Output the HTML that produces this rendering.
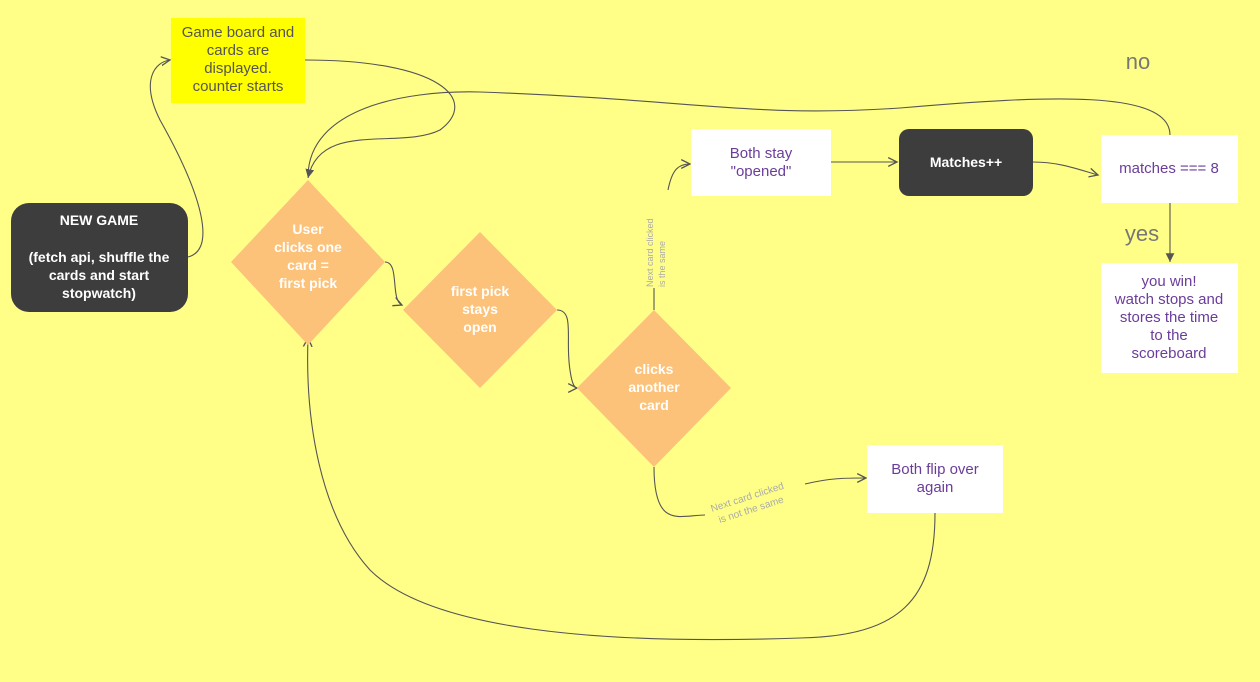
<!DOCTYPE html>
<html><head><style>
html,body{margin:0;padding:0;background:#ffff88;}
svg{display:block;font-family:"Liberation Sans",sans-serif;}
</style></head><body>
<svg width="1260" height="682" viewBox="0 0 1260 682">
<defs><marker id="a" markerWidth="10" markerHeight="10" refX="8" refY="5" orient="auto"><path d="M0,1 L8,5 L0,9" fill="none" stroke="#555" stroke-width="1.2"/></marker>
<marker id="f" markerWidth="10" markerHeight="10" refX="8" refY="5" orient="auto"><path d="M0,1 L8,5 L0,9 Z" fill="#555"/></marker></defs>
<rect width="1260" height="682" fill="#ffff88"/>
<g fill="none" stroke="#555" stroke-width="1.1">
<path d="M188,257 C215,250 205,200 160,120 C140,80 155,62 170,60" marker-end="url(#a)"/>
<path d="M305,60 C440,60 480,100 440,130 C400,150 320,120 308,178" marker-end="url(#f)"/>
<path d="M308,175 C310,110 400,90 480,92 C700,100 750,118 900,108 C1050,95 1170,90 1170,135"/>
<path d="M385,262 C400,262 390,300 402,305" marker-end="url(#a)"/>
<path d="M557,310 C575,310 565,340 570,370 C572,385 575,388 577,388" marker-end="url(#a)"/>
<path d="M654,310 L654,288"/>
<path d="M668,190 C672,170 678,164 690,164" marker-end="url(#a)"/>
<path d="M831,162 L897,162" marker-end="url(#a)"/>
<path d="M1033,162 C1060,162 1080,170 1098,175" marker-end="url(#a)"/>
<path d="M1170,203 L1170,262" marker-end="url(#f)"/>
<path d="M654,467 C654,530 680,515 705,515"/>
<path d="M805,484 C830,478 845,478 866,478" marker-end="url(#a)"/>
<path d="M935,513 C935,600 900,636 800,638 C600,645 430,630 370,570 C320,515 305,420 308,338" marker-end="url(#a)"/>
</g>
<rect x="171" y="18" width="134" height="85" fill="#ffff00"/>
<text font-size="15" fill="#555" text-anchor="middle"><tspan x="238" y="37">Game board and</tspan><tspan x="238" y="55">cards are</tspan><tspan x="238" y="73">displayed.</tspan><tspan x="238" y="91">counter starts</tspan></text>
<rect x="11" y="203" width="177" height="109" rx="18" fill="#3d3d3d"/>
<text font-size="14" font-weight="bold" fill="#fff" text-anchor="middle"><tspan x="99" y="225">NEW GAME</tspan><tspan x="99" y="262">(fetch api, shuffle the</tspan><tspan x="99" y="280">cards and start</tspan><tspan x="99" y="298">stopwatch)</tspan></text>
<polygon points="308,180 385,262 308,345 231,262" fill="#fcc27a"/>
<text font-size="14" font-weight="bold" fill="#fff" text-anchor="middle"><tspan x="308" y="234">User</tspan><tspan x="308" y="252">clicks one</tspan><tspan x="308" y="270">card =</tspan><tspan x="308" y="288">first pick</tspan></text>
<polygon points="480,232 557,310 480,388 403,310" fill="#fcc27a"/>
<text font-size="14" font-weight="bold" fill="#fff" text-anchor="middle"><tspan x="480" y="296">first pick</tspan><tspan x="480" y="314">stays</tspan><tspan x="480" y="332">open</tspan></text>
<polygon points="654,310 731,388 654,467 577,388" fill="#fcc27a"/>
<text font-size="14" font-weight="bold" fill="#fff" text-anchor="middle"><tspan x="654" y="374">clicks</tspan><tspan x="654" y="392">another</tspan><tspan x="654" y="410">card</tspan></text>
<rect x="691" y="129" width="140" height="67" fill="#fff"/>
<text font-size="15" fill="#6a3d9a" text-anchor="middle"><tspan x="761" y="158">Both stay</tspan><tspan x="761" y="176">"opened"</tspan></text>
<rect x="899" y="129" width="134" height="67" rx="10" fill="#3d3d3d"/>
<text x="966" y="167" font-size="14" font-weight="bold" fill="#fff" text-anchor="middle">Matches++</text>
<rect x="1101" y="135" width="137" height="68" fill="#fff"/>
<text x="1169" y="173" font-size="15" fill="#6a3d9a" text-anchor="middle">matches === 8</text>
<rect x="1101" y="263" width="137" height="110" fill="#fff"/>
<text font-size="15" fill="#6a3d9a" text-anchor="middle"><tspan x="1169" y="286">you win!</tspan><tspan x="1169" y="304">watch stops and</tspan><tspan x="1169" y="322">stores the time</tspan><tspan x="1169" y="340">to the</tspan><tspan x="1169" y="358">scoreboard</tspan></text>
<rect x="867" y="445" width="136" height="68" fill="#fff"/>
<text font-size="15" fill="#6a3d9a" text-anchor="middle"><tspan x="935" y="474">Both flip over</tspan><tspan x="935" y="492">again</tspan></text>
<text x="1138" y="69" font-size="22" fill="#777" text-anchor="middle">no</text>
<text x="1142" y="241" font-size="22" fill="#777" text-anchor="middle">yes</text>
<text font-size="9" fill="#aaa" transform="translate(653,287) rotate(-90)"><tspan x="0" y="0">Next card clicked</tspan><tspan x="0" y="12">is the same</tspan></text>
<text font-size="10" fill="#aaa" transform="translate(712,512) rotate(-18)"><tspan x="0" y="0">Next card clicked</tspan><tspan x="4" y="13">is not the same</tspan></text>
</svg>
</body></html>
